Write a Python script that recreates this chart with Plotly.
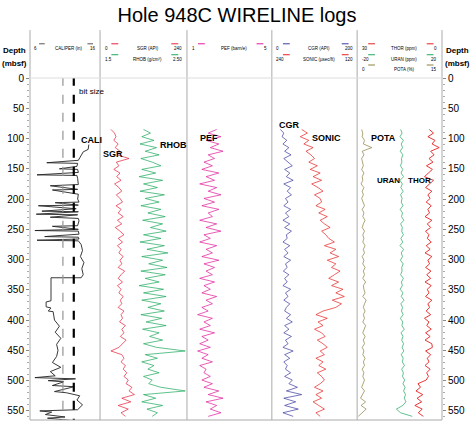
import numpy as np
import plotly.graph_objects as go

# depths for the regularly sampled logs (m)
depth = np.arange(85, 560, 6)

SGR = [30,40,44,38,50,42,55,48,80,45, 52,38,55,46,58,40,52,60,45,55,
       62,44,58,50,64,48,60,42,55,66, 50,62,48,58,52,64,55,60,50,68,
       58,50,62,48,58,52,64,56,60,50, 66,58,62,54,70,60,66,56,72,62,
       52,30,60,66,58,70,64,74,66,78, 72,88,80,95,60,85,50,78,58,70]
RHOB = [2.00,2.08,1.98,2.12,1.96,2.15,2.02,2.18,1.97,2.10,
        2.20,1.98,2.14,1.95,2.22,2.00,2.16,1.96,2.24,2.02,
        2.18,1.97,2.20,2.05,2.25,1.99,2.22,2.08,2.26,2.00,
        2.20,1.96,2.24,2.04,2.28,1.98,2.22,2.06,2.27,1.97,
        2.25,2.02,2.18,1.95,2.23,2.00,2.26,1.98,2.20,2.05,
        2.24,1.97,2.21,2.03,2.26,1.99,2.18,2.07,2.22,2.00,
        2.15,2.48,2.02,2.16,1.98,2.12,2.05,2.18,2.00,2.10,
        2.06,2.20,2.48,2.00,2.14,1.98,2.22,2.04,2.16,2.10]
PEF = [2.4,2.0,2.6,1.9,2.5,2.1,2.7,2.0,2.3,1.8, 2.2,1.7,2.5,1.9,2.3,1.6,2.4,2.0,2.6,1.8,
       2.3,1.7,2.5,2.0,2.2,1.6,2.4,1.9,2.6,1.8, 2.1,1.6,2.4,1.9,2.2,1.7,2.5,1.8,2.3,1.9,
       2.2,1.6,2.3,1.8,2.1,1.7,2.4,1.9,2.2,1.7, 2.0,1.5,2.2,1.8,2.1,1.6,2.3,1.7,2.0,1.6,
       2.1,1.5,2.0,1.7,2.2,1.6,1.9,1.8,2.1,1.7, 2.2,1.8,2.5,2.0,2.7,1.9,2.4,2.1,2.6,2.0]
CGR = [20,28,24,35,26,40,30,45,28,38, 48,30,42,34,50,28,44,36,46,32,
       38,28,44,32,40,26,42,30,46,34, 36,26,42,30,38,28,44,32,36,27,
       40,30,36,26,44,32,38,28,42,34, 30,44,34,48,30,40,28,46,32,38,
       26,50,30,42,28,36,32,44,30,48, 40,60,34,70,28,56,30,62,26,50]
SONIC = [198,190,200,188,195,182,192,185,180,188, 176,186,172,182,170,184,175,168,180,172,
         170,178,165,174,162,172,166,158,170,164, 160,152,166,150,158,146,162,150,156,144,
         152,160,146,156,140,150,138,155,142,150, 168,178,162,175,168,180,170,165,176,168,
         162,172,166,178,168,174,164,176,170,166, 172,180,168,178,170,182,174,166,178,172]
POTA = [0.8,1.0,0.9,1.3,1.1,2.6,0.9,1.2,0.8,1.0, 1.1,0.8,1.2,0.9,1.0,0.7,1.2,0.9,1.1,0.8,
        1.0,1.3,0.9,1.2,1.0,1.4,1.1,0.9,1.3,1.0, 1.2,1.0,1.4,1.1,1.3,0.9,1.2,1.0,1.4,1.1,
        1.3,1.0,1.5,1.1,1.2,1.4,1.0,1.6,1.3,1.1, 1.4,1.1,1.3,1.0,1.5,1.2,1.0,1.4,1.1,1.3,
        0.9,1.2,1.0,1.4,1.1,1.3,0.9,1.2,1.0,1.3, 1.1,0.8,1.3,1.0,0.6,1.5,0.7,1.6,0.9,0.2]
URAN = [0.5,1.2,0.2,1.8,0.8,1.4,0.3,1.6,0.9,1.1, 0.4,1.5,0.7,1.9,0.2,1.3,0.6,1.7,0.5,1.2,
        0.8,1.6,0.3,1.4,0.9,2.0,0.5,1.3,1.0,1.8, 0.6,1.5,0.2,1.9,0.8,1.4,0.4,1.7,1.0,1.2,
        0.5,1.8,0.9,1.3,0.3,1.6,0.8,2.1,0.6,1.4, 0.9,1.7,0.4,1.5,1.1,2.2,0.7,1.6,1.0,1.9,
        1.2,2.0,0.8,1.7,1.3,2.3,1.0,1.8,1.4,2.4, 1.6,2.6,1.9,2.8,2.2,3.0,1.5,-1.5,0.5,6.0]
THOR = [4.5,3.0,5.0,2.5,3.5,1.0,4.0,2.8,4.6,3.2, 5.5,3.4,4.8,6.2,3.0,4.4,5.8,3.6,5.0,4.2,
        5.6,3.8,5.0,4.4,6.0,3.6,5.2,4.0,5.8,4.6, 5.2,3.8,5.6,4.2,6.0,3.6,5.0,4.4,5.8,3.9,
        5.4,4.0,6.0,3.8,5.2,4.6,5.8,3.6,5.0,4.4, 5.6,4.0,6.2,4.6,5.4,3.8,5.8,4.2,6.0,3.6,
        3.4,5.8,4.0,5.2,4.6,6.0,4.2,5.4,4.8,5.6, 8.5,7.6,9.2,6.8,8.8,7.2,9.6,7.0,8.4,6.6]

CALI_depth = [110,118,122,126,132,136,140,141,146,150,151,156,160,161,166,176,178,184,185,192,
              200,205,206,210,211,216,220,221,225,226,230,232,236,244,245,250,252,253,258,262,
              263,266,268,269,275,285,295,305,315,325,330,330,345,368,370,378,380,385,386,
              400,410,420,430,440,450,460,470,478,485,492,495,497,500,502,508,510,518,520,
              525,532,540,548,550,552,556,560,562,566,570]
CALI = [14.4,14.3,13.6,13.4,13.2,12.9,8.4,12.8,12.7,10.2,12.8,12.9,7.0,12.7,12.8,12.9,8.9,12.8,9.2,12.9,
        12.8,13.0,9.6,12.9,7.2,12.6,7.7,12.9,6.9,12.8,8.9,12.9,13.0,12.8,9.2,12.9,6.7,12.9,13.0,8.1,
        12.9,13.0,7.0,12.9,13.3,13.5,13.2,13.7,13.4,13.6,13.3,9.0,9.0,9.0,8.3,8.3,9.0,8.6,9.3,
        9.5,10.2,9.6,10.4,9.8,10.0,9.8,9.2,10.4,8.9,9.6,6.7,12.5,8.6,10.8,9.2,12.3,9.5,11.2,
        13.1,12.7,13.5,12.8,7.4,9.1,8.2,11.0,8.5,12.2,7.6]
BIT_SIZE = 12.25
CALI_REF = 10.7

fig = go.Figure()
def tr(x, y, xa, color, w=0.7, dash="solid", ya="y"):
    fig.add_trace(go.Scatter(x=x, y=y, xaxis=xa, yaxis=ya, mode="lines",
                             line=dict(color=color, width=w, dash=dash),
                             showlegend=False, hoverinfo="skip"))

tr(CALI, CALI_depth, "x", "#222222", 0.9)
tr([BIT_SIZE, BIT_SIZE], [-2, 575], "x", "black", 2.2, "dash")
tr([CALI_REF, CALI_REF], [-2, 575], "x", "#999999", 0.8, "dash")
tr([CALI_REF, CALI_REF], [-2, 575], "x", "#999999", 0.8, "dash", ya="y2")
tr(SGR, depth, "x2", "#e8203a")
tr(RHOB, depth, "x3", "#1aa85a")
tr(PEF, depth, "x4", "#e0189a")
tr(CGR, depth, "x5", "#3a3aa0")
tr(SONIC, depth, "x6", "#e82020")
tr(THOR, depth, "x7", "#e82020", 0.9)
tr(URAN, depth, "x8", "#20a860")
tr(POTA, depth, "x9", "#8a8040")

doms = [[0, 0.170], [0.170, 0.381], [0.381, 0.587], [0.587, 0.794], [0.794, 1.0]]
ax = dict(showgrid=False, zeroline=False, showticklabels=False, ticks="", showline=False, automargin=False)
fig.update_layout(
    xaxis=dict(domain=doms[0], range=[6, 16], anchor="y", **ax),
    xaxis2=dict(domain=doms[1], range=[0, 240], anchor="y", **ax),
    xaxis3=dict(overlaying="x2", range=[1.5, 2.5], anchor="y", **ax),
    xaxis4=dict(domain=doms[2], range=[1, 5], anchor="y", **ax),
    xaxis5=dict(domain=doms[3], range=[0, 200], anchor="y", **ax),
    xaxis6=dict(overlaying="x5", range=[240, 120], anchor="y", **ax),
    xaxis7=dict(domain=doms[4], range=[30, 0], anchor="y", **ax),
    xaxis8=dict(overlaying="x7", range=[-20, 20], anchor="y", **ax),
    xaxis9=dict(overlaying="x7", range=[0, 15], anchor="y", **ax),
)
yax = dict(range=[565, 0], tickvals=list(range(0, 551, 50)), ticks="outside", ticklen=3,
           tickcolor="#888", showgrid=False, zeroline=False, automargin=False,
           tickfont=dict(family="Arial", size=10, color="black"),
           minor=dict(tickvals=list(range(0, 561, 10)), ticks="outside", ticklen=2, tickcolor="#aaa"))
fig.update_layout(
    yaxis=dict(**yax),
    yaxis2=dict(**yax, overlaying="y", side="right", anchor="x7"),
)

shapes = []
for xb in [0, 0.170, 0.381, 0.587, 0.794, 1.0]:
    shapes.append(dict(type="line", xref="paper", yref="paper", x0=xb, x1=xb, y0=0, y1=1.14,
                       line=dict(color="#aaaaaa", width=1)))
shapes.append(dict(type="line", xref="paper", yref="paper", x0=0, x1=1, y0=0, y1=0,
                   line=dict(color="#aaaaaa", width=1)))
shapes.append(dict(type="line", xref="paper", yref="paper", x0=0, x1=1, y0=1, y1=1,
                   line=dict(color="#dddddd", width=1)))

ann = []
def txt(x, y, s, size=9, bold=True, xref="paper", yref="y", color="black", xanchor="left"):
    ann.append(dict(x=x, y=y, xref=xref, yref=yref, text=("<b>%s</b>" % s) if bold else s,
                    showarrow=False, xanchor=xanchor, font=dict(family="Arial", size=size, color=color)))

# header legends: (track, row, left label, name, right label, color)
hdr = [(0, 0, "6", "CALIPER (in)", "16", "#555"),
       (1, 0, "0", "SGR (API)", "240", "#e8203a"),
       (1, 1, "1.5", "RHOB (g/cm³)", "2.50", "#1aa85a"),
       (2, 0, "1", "PEF (barn/e)", "5", "#e0189a"),
       (3, 0, "0", "CGR (API)", "200", "#3a3aa0"),
       (3, 1, "240", "SONIC (µsec/ft)", "120", "#e82020"),
       (4, 0, "30", "THOR (ppm)", "0", "#e82020"),
       (4, 1, "-20", "URAN (ppm)", "20", "#20a860"),
       (4, 2, "0", "POTA (%)", "15", "#8a8040")]
rowy = [1.10, 1.068, 1.038]
for t, r, lft, name, rgt, col in hdr:
    a, b = doms[t]
    w = b - a
    y = rowy[r]
    txt(a + 0.03 * w, y, lft, 4.5, False, yref="paper", xanchor="left")
    txt(a + 0.55 * w, y, name, 4.5, False, yref="paper", xanchor="center")
    for x0 in (a + 0.13 * w, a + 0.82 * w):
        shapes.append(dict(type="line", xref="paper", yref="paper", x0=x0, x1=x0 + 0.08 * w,
                           y0=y, y1=y, line=dict(color=col, width=1)))
    txt(b - 0.03 * w, y, rgt, 4.5, False, yref="paper", xanchor="right")

txt(-0.037, 1.10, "Depth", 8, xanchor="center", yref="paper")
txt(-0.037, 1.06, "(mbsf)", 8, xanchor="center", yref="paper")
txt(1.037, 1.10, "Depth", 8, xanchor="center", yref="paper")
txt(1.037, 1.06, "(mbsf)", 8, xanchor="center", yref="paper")

# curve labels (x in paper, y at depth)
txt(0.115, 22, "bit size", 8, False)
txt(0.120, 103, "CALI", 9)
txt(0.172, 125, "SGR", 9)
txt(0.310, 110, "RHOB", 9)
txt(0.408, 99, "PEF", 9)
txt(0.600, 78, "CGR", 9)
txt(0.680, 99, "SONIC", 9)
txt(0.822, 99, "POTA", 9)
txt(0.838, 170, "URAN", 8)
txt(0.912, 170, "THOR", 8)

fig.update_layout(
    width=474, height=436, margin=dict(l=30, r=32, t=78, b=16, autoexpand=False),
    paper_bgcolor="white", plot_bgcolor="white",
    title=dict(text="Hole 948C WIRELINE logs", x=0.5, y=0.982, xanchor="center", yanchor="top",
               automargin=False, font=dict(family="Arial", size=20, color="black")),
    shapes=shapes, annotations=ann, showlegend=False,
)
fig.write_html("out.html", config={"displayModeBar": False},
               post_script="document.body.style.margin='0';")
